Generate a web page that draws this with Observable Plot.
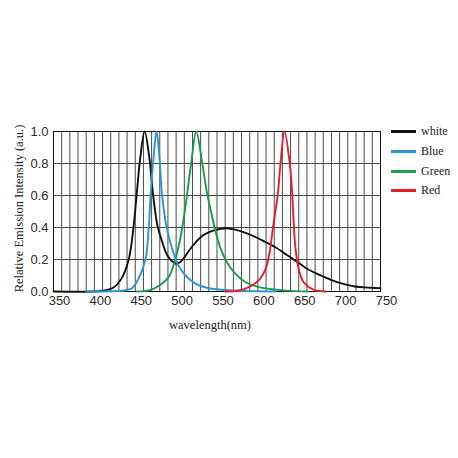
<!DOCTYPE html>
<html>
<head>
<meta charset="utf-8">
<script src="https://cdn.jsdelivr.net/npm/d3@7"></script>
<script src="https://cdn.jsdelivr.net/npm/@observablehq/plot@0.6"></script>
<style>
  body { margin: 0; background: #fff; }
  #chart { position: relative; width: 458px; height: 458px; }
  .legend { position: absolute; left: 391px; top: 122px; font: 12px "Liberation Serif", serif; color: #222; }
  .legend div { display: flex; align-items: center; height: 19.7px; }
  .legend .sw { display: inline-block; width: 25px; height: 3px; margin-right: 5px; }
</style>
</head>
<body>
<div id="chart"></div>
<script>
// spectra: wavelength (nm) / relative intensity
const whiteNm = [350, 400, 410, 422, 433, 442, 448, 452, 456, 461.5, 467.4, 471.5, 477.2, 483, 487, 492, 499, 504, 509, 515, 521, 528, 536, 548, 562, 577, 593, 609, 622, 632, 646, 660, 677, 697, 717, 738, 750];
const whiteVal = [0, 0, 0.005, 0.02, 0.08, 0.2, 0.41, 0.62, 0.83, 1.0, 0.83, 0.62, 0.41, 0.31, 0.25, 0.205, 0.175, 0.18, 0.205, 0.25, 0.29, 0.33, 0.36, 0.385, 0.395, 0.38, 0.35, 0.31, 0.275, 0.24, 0.193, 0.142, 0.1, 0.058, 0.033, 0.023, 0.02];

const blueNm = [390, 430, 438, 446, 454, 462.5, 466.6, 469, 472.3, 476, 479.7, 482.5, 488, 495, 503, 511.5, 524, 540, 569, 595, 622];
const blueVal = [0, 0.003, 0.008, 0.02, 0.08, 0.2, 0.41, 0.62, 0.83, 1.0, 0.83, 0.62, 0.41, 0.27, 0.16, 0.1, 0.048, 0.02, 0.006, 0.002, 0];

const greenNm = [452, 469, 483, 491, 499, 505, 509.4, 513.5, 518.4, 524.6, 532, 538, 544, 548, 554.3, 562.5, 572.6, 585, 601, 622, 640, 661];
const greenVal = [0, 0.01, 0.05, 0.09, 0.2, 0.33, 0.46, 0.61, 0.8, 1.0, 0.8, 0.61, 0.47, 0.38, 0.27, 0.18, 0.11, 0.058, 0.027, 0.012, 0.004, 0];

const redNm = [560, 577, 589, 601, 609.3, 613.5, 618.5, 624.4, 627.7, 632.6, 639, 642, 644, 646, 650, 656, 668, 683];
const redVal = [0, 0.006, 0.027, 0.069, 0.14, 0.22, 0.4, 0.61, 0.8, 1.0, 0.8, 0.61, 0.41, 0.27, 0.14, 0.058, 0.012, 0];

const seriesNames = ["white", "Blue", "Green", "Red"];
const seriesColors = ["#111111", "#2b93d6", "#1b9b4b", "#e51d2a"];

const xTicks = [350, 400, 450, 500, 550, 600, 650, 700, 750];
const yTicks = [0, 0.2, 0.4, 0.6, 0.8, 1.0];

const toRows = (xs, ys) => xs.map((x, i) => ({ nm: x, value: ys[i] }));
const series = [
  { data: toRows(whiteNm, whiteVal), color: seriesColors[0] },
  { data: toRows(greenNm, greenVal), color: seriesColors[2] },
  { data: toRows(blueNm, blueVal), color: seriesColors[1] },
  { data: toRows(redNm, redVal), color: seriesColors[3] },
];

const plot = Plot.plot({
  width: 458,
  height: 458,
  marginLeft: 53,
  marginRight: 78,
  marginTop: 131,
  marginBottom: 167,
  style: { fontFamily: "'Liberation Sans', Arial, sans-serif", fontSize: "13px", color: "#2a2a2a", background: "#fff" },
  x: { domain: [350, 750] },
  y: { domain: [0, 1] },
  marks: [
    Plot.ruleX(d3.range(350, 751, 10), { stroke: "#4a4a4a", strokeWidth: 1 }),
    Plot.ruleY(yTicks, { stroke: "#4a4a4a", strokeWidth: 1 }),
    Plot.frame({ stroke: "#111" }),
    ...series.map((s) =>
      Plot.line(s.data, {
        x: "nm",
        y: "value",
        stroke: s.color,
        strokeWidth: 1.9,
        curve: "catmull-rom",
      })
    ),
    Plot.axisX(xTicks, { tickSize: 0, tickPadding: 4, dx: 6, label: null }),
    Plot.axisY(yTicks, { tickSize: 0, tickPadding: 5, tickFormat: ".1f", label: null }),
    Plot.text(["wavelength(nm)"], {
      text: (d) => d,
      frameAnchor: "bottom",
      lineAnchor: "middle",
      textAnchor: "middle",
      dy: 33,
      dx: -7,
      fontFamily: "'Liberation Serif', serif",
      fontSize: 12.5,
      fill: "#222",
    }),
    Plot.text(["Relative Emission Intensity (a.u.)"], {
      text: (d) => d,
      frameAnchor: "left",
      lineAnchor: "middle",
      textAnchor: "middle",
      rotate: -90,
      dx: -35,
      dy: -3,
      fontFamily: "'Liberation Serif', serif",
      fontSize: 12.5,
      fill: "#222",
    }),
  ],
});

const chart = document.getElementById("chart");
chart.appendChild(plot);

const legend = document.createElement("div");
legend.className = "legend";
seriesNames.forEach((name, i) => {
  const row = document.createElement("div");
  const sw = document.createElement("span");
  sw.className = "sw";
  sw.style.background = seriesColors[i];
  row.appendChild(sw);
  row.appendChild(document.createTextNode(name));
  legend.appendChild(row);
});
chart.appendChild(legend);
</script>
</body>
</html>
